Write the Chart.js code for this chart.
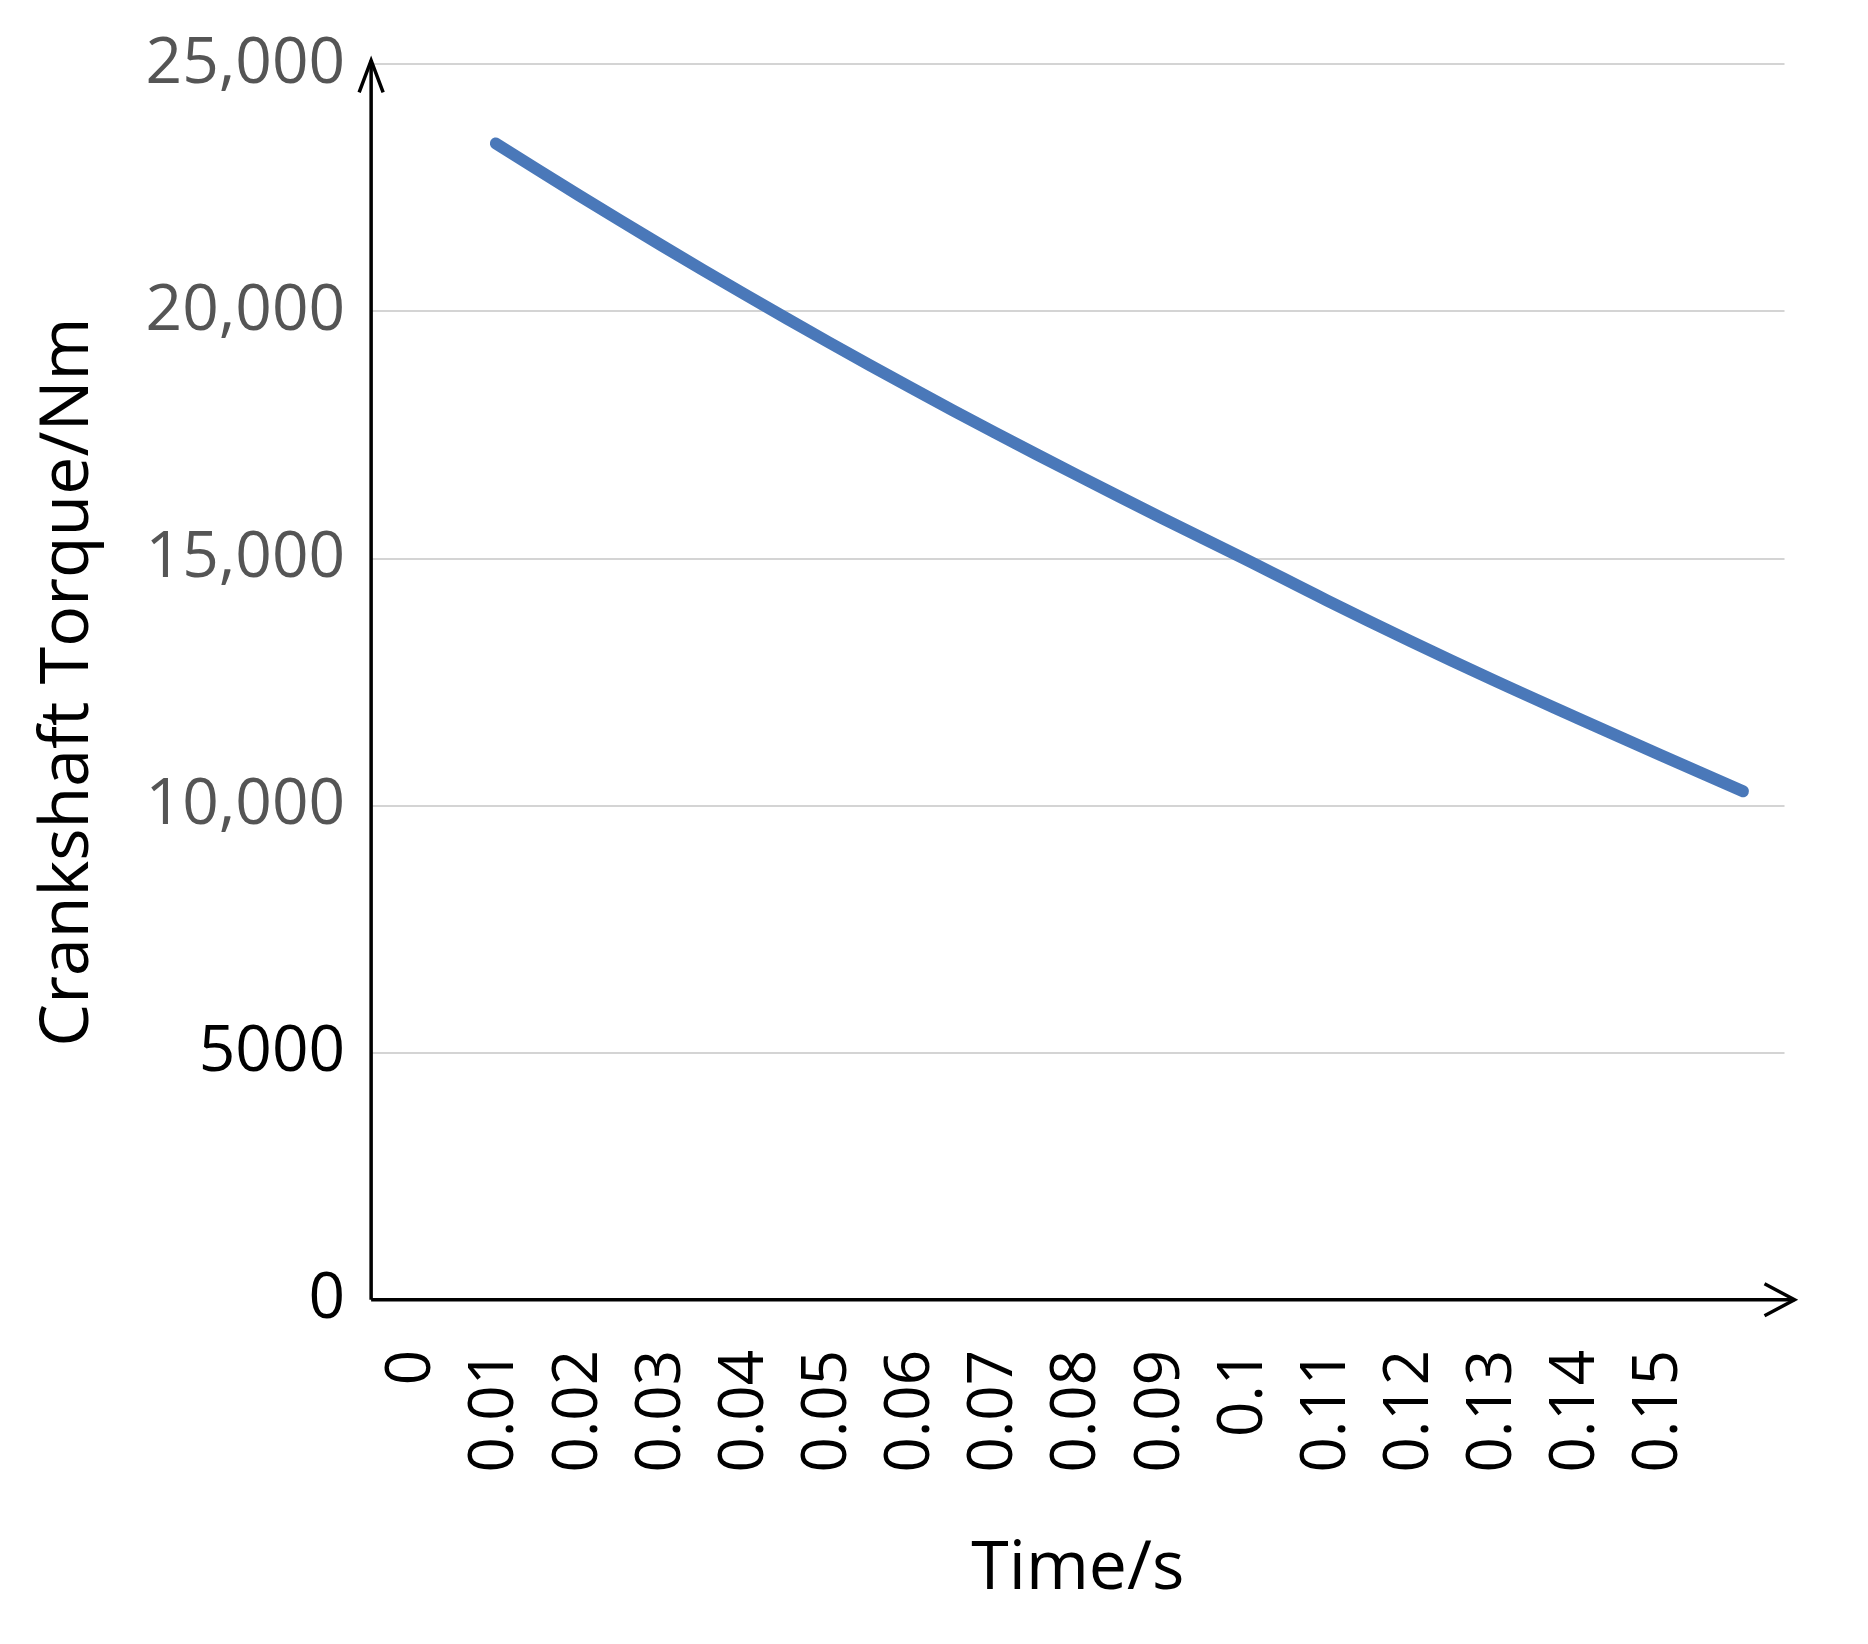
<!DOCTYPE html>
<html><head><meta charset="utf-8">
<script src="https://cdn.jsdelivr.net/npm/chart.js@4/dist/chart.umd.min.js"></script>
<style>html,body{margin:0;padding:0;background:#fff}</style>
</head><body>
<canvas id="c" width="1868" height="1644"></canvas>
<script>
const categories = ["0","0.01","0.02","0.03","0.04","0.05","0.06","0.07","0.08","0.09","0.1","0.11","0.12","0.13","0.14","0.15","0.16"];
const torque = [null,23400,22350,21330,20340,19380,18450,17550,16680,15830,15000,14150,13330,12540,11780,11030,10290];
const yTicks = [0,5000,10000,15000,20000,25000];
const yTickLabels = ["0","5000","10,000","15,000","20,000","25,000"];

const arrows = {
  id:'arrows',
  afterDraw(chart){
    const {ctx, chartArea:a} = chart;
    ctx.save();
    ctx.strokeStyle='#000'; ctx.lineWidth=3.5;
    ctx.beginPath();
    ctx.moveTo(a.left, a.bottom); ctx.lineTo(a.left, a.top-4);
    ctx.moveTo(a.left, a.bottom); ctx.lineTo(a.right+10, a.bottom);
    ctx.stroke();
    ctx.beginPath();
    ctx.moveTo(a.left-12, a.top+28); ctx.lineTo(a.left, a.top-4); ctx.lineTo(a.left+12, a.top+28);
    ctx.moveTo(a.right-20, a.bottom-16); ctx.lineTo(a.right+10, a.bottom); ctx.lineTo(a.right-20, a.bottom+16);
    ctx.stroke();
    ctx.restore();
  }
};

new Chart(document.getElementById('c'), {
  type:'line',
  data:{labels:categories, datasets:[{data:torque, borderColor:'#4a78b9', borderWidth:12, pointRadius:0, tension:0.4, borderCapStyle:'round', spanGaps:false}]},
  options:{
    responsive:false, animation:false,
    layout:{padding:{left:24,top:14,right:22,bottom:30}},
    plugins:{legend:{display:false},tooltip:{enabled:false}},
    scales:{
      x:{
        offset:true,
        grid:{display:false, drawTicks:false},
        border:{display:false},
        ticks:{minRotation:90,maxRotation:90,padding:50,color:'#000',font:{family:'Open Sans',size:62},
          callback:(v,i)=> i===16 ? '' : categories[i]},
        title:{display:true,text:'Time/s',color:'#000',font:{family:'Open Sans',size:68},padding:{top:6}}
      },
      y:{
        min:0,max:25000,
        afterBuildTicks:(s)=>{s.ticks=yTicks.map(v=>({value:v}));},
        grid:{color:'#d4d4d4',lineWidth:2,drawTicks:false},
        border:{display:false},
        ticks:{padding:26,font:{family:'Open Sans',size:64},
          color:(c)=> c.tick && c.tick.value>=10000 ? '#555' : '#000',
          callback:(v)=> yTickLabels[yTicks.indexOf(v)]},
        title:{display:true,text:'Crankshaft Torque/Nm',color:'#000',font:{family:'Open Sans',size:68},padding:{bottom:10}}
      }
    }
  },
  plugins:[arrows]
});
</script>
</body></html>
